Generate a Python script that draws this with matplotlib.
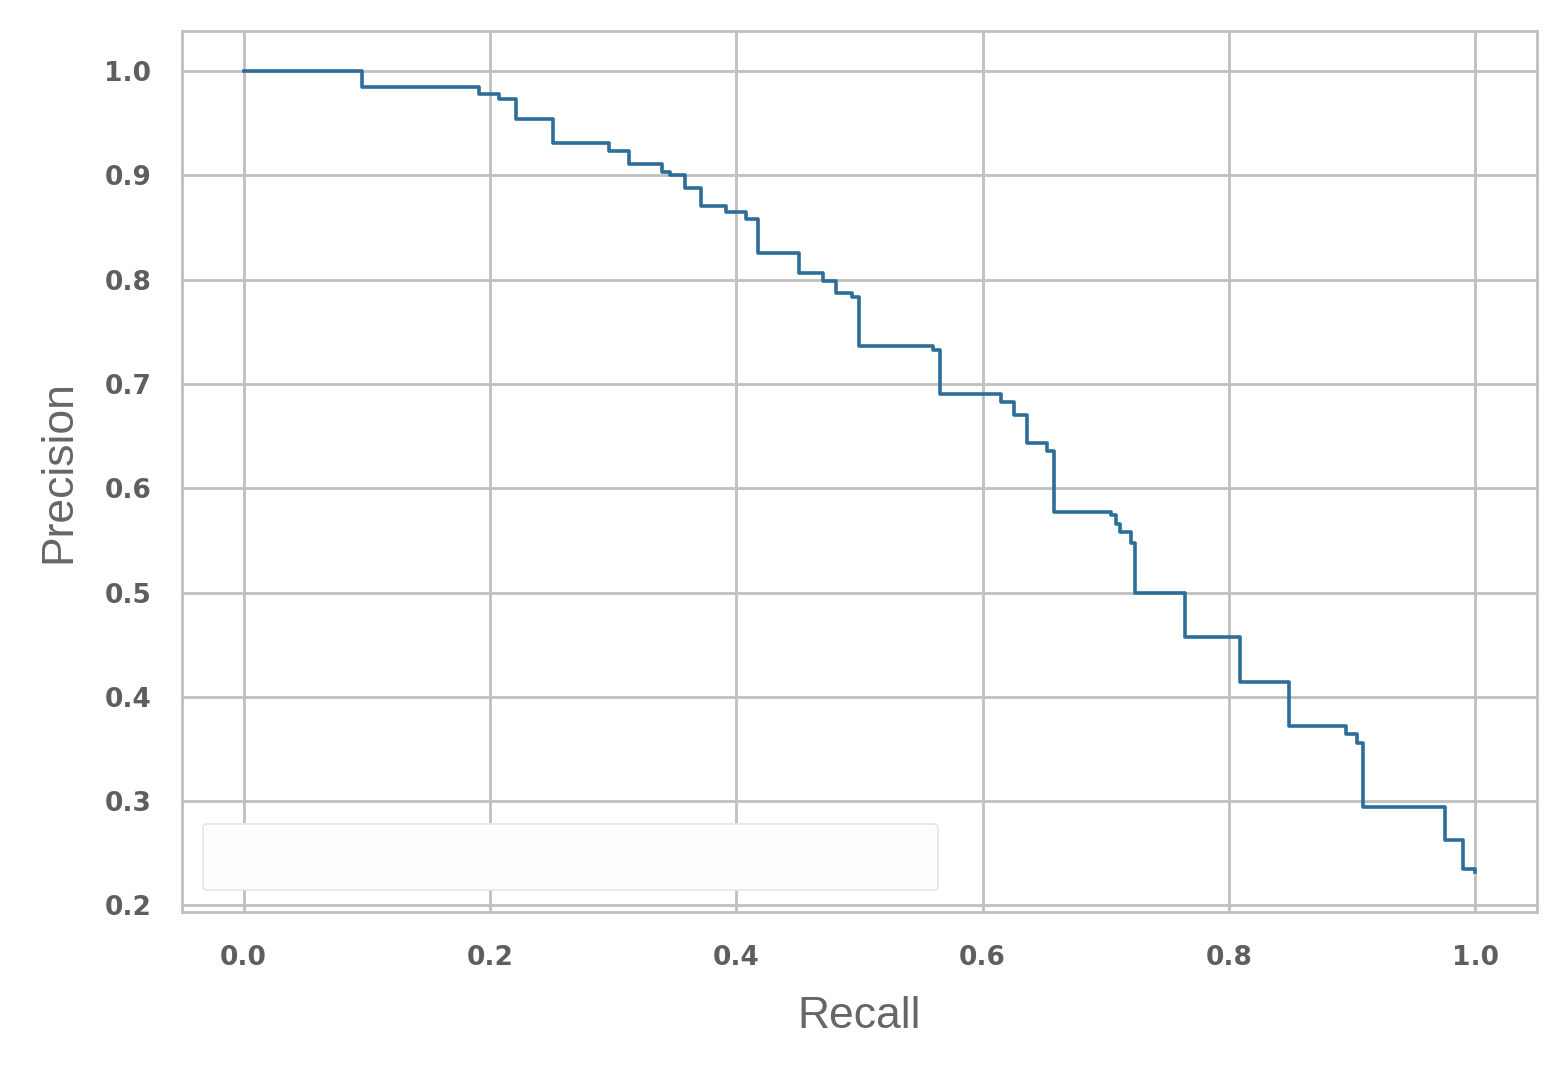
import matplotlib
matplotlib.use('Agg')
import matplotlib.pyplot as plt
from matplotlib.patches import FancyBboxPatch

# Step points: recall where each level starts, precision level
recall = [0.0, 0.096, 0.191, 0.207, 0.221, 0.251, 0.2965, 0.3128, 0.340, 0.3458,
          0.3583, 0.3715, 0.3919, 0.408, 0.4176, 0.451, 0.4705, 0.4808, 0.4943, 0.4997,
          0.5593, 0.5656, 0.6149, 0.6258, 0.6358, 0.652, 0.6583, 0.7043, 0.7084, 0.7116,
          0.7206, 0.7238, 0.764, 0.8092, 0.8488, 0.8949, 0.904, 0.9084, 0.9753, 0.9902,
          1.0]
precision = [1.0, 0.985, 0.978, 0.973, 0.954, 0.931, 0.923, 0.911, 0.903, 0.900,
             0.888, 0.871, 0.865, 0.858, 0.826, 0.8065, 0.799, 0.787, 0.783, 0.736,
             0.733, 0.690, 0.683, 0.6705, 0.643, 0.636, 0.577, 0.574, 0.566, 0.558,
             0.547, 0.500, 0.457, 0.414, 0.372, 0.364, 0.356, 0.294, 0.263, 0.235,
             0.232]

x_ticks = [0.0, 0.2, 0.4, 0.6, 0.8, 1.0]
y_ticks = [0.2, 0.3, 0.4, 0.5, 0.6, 0.7, 0.8, 0.9, 1.0]

fig = plt.figure(figsize=(15.62, 10.74), dpi=100)
ax = fig.add_axes([0.1165, 0.1508, 0.8675, 0.8203])

ax.step(recall, precision, where='post', color='#2d6d99', linewidth=2.6)

ax.set_xticks(x_ticks)
ax.set_yticks(y_ticks)
ax.set_xticklabels([f'{v:.1f}' for v in x_ticks])
ax.set_yticklabels([f'{v:.1f}' for v in y_ticks])

# Grid and spines in light gray, like a whitegrid style
ax.grid(True, color='#c0c0c0', linewidth=2.0)
ax.set_axisbelow(True)
for s in ax.spines.values():
    s.set_color('#c0c0c0')
    s.set_linewidth(2.0)

ax.tick_params(axis='both', length=0, labelsize=19, labelcolor='#5e5e5e')
ax.tick_params(axis='x', pad=24)
ax.tick_params(axis='y', pad=22)
for lab in ax.get_xticklabels() + ax.get_yticklabels():
    lab.set_fontweight('bold')

ax.set_xlabel('Recall', fontsize=32, color='#666666', family='Liberation Sans', labelpad=18)
ax.set_ylabel('Precision', fontsize=32, color='#666666', family='Liberation Sans', labelpad=18)

# Empty legend frame in the lower left
box = FancyBboxPatch((0.0155, 0.025), 0.5424, 0.075, boxstyle='round,pad=0,rounding_size=0.004',
                     transform=ax.transAxes, facecolor='#fdfdfb', edgecolor='#e6e6e6',
                     linewidth=1.2, zorder=3)
ax.add_patch(box)

plt.savefig('out.png', dpi=100)
